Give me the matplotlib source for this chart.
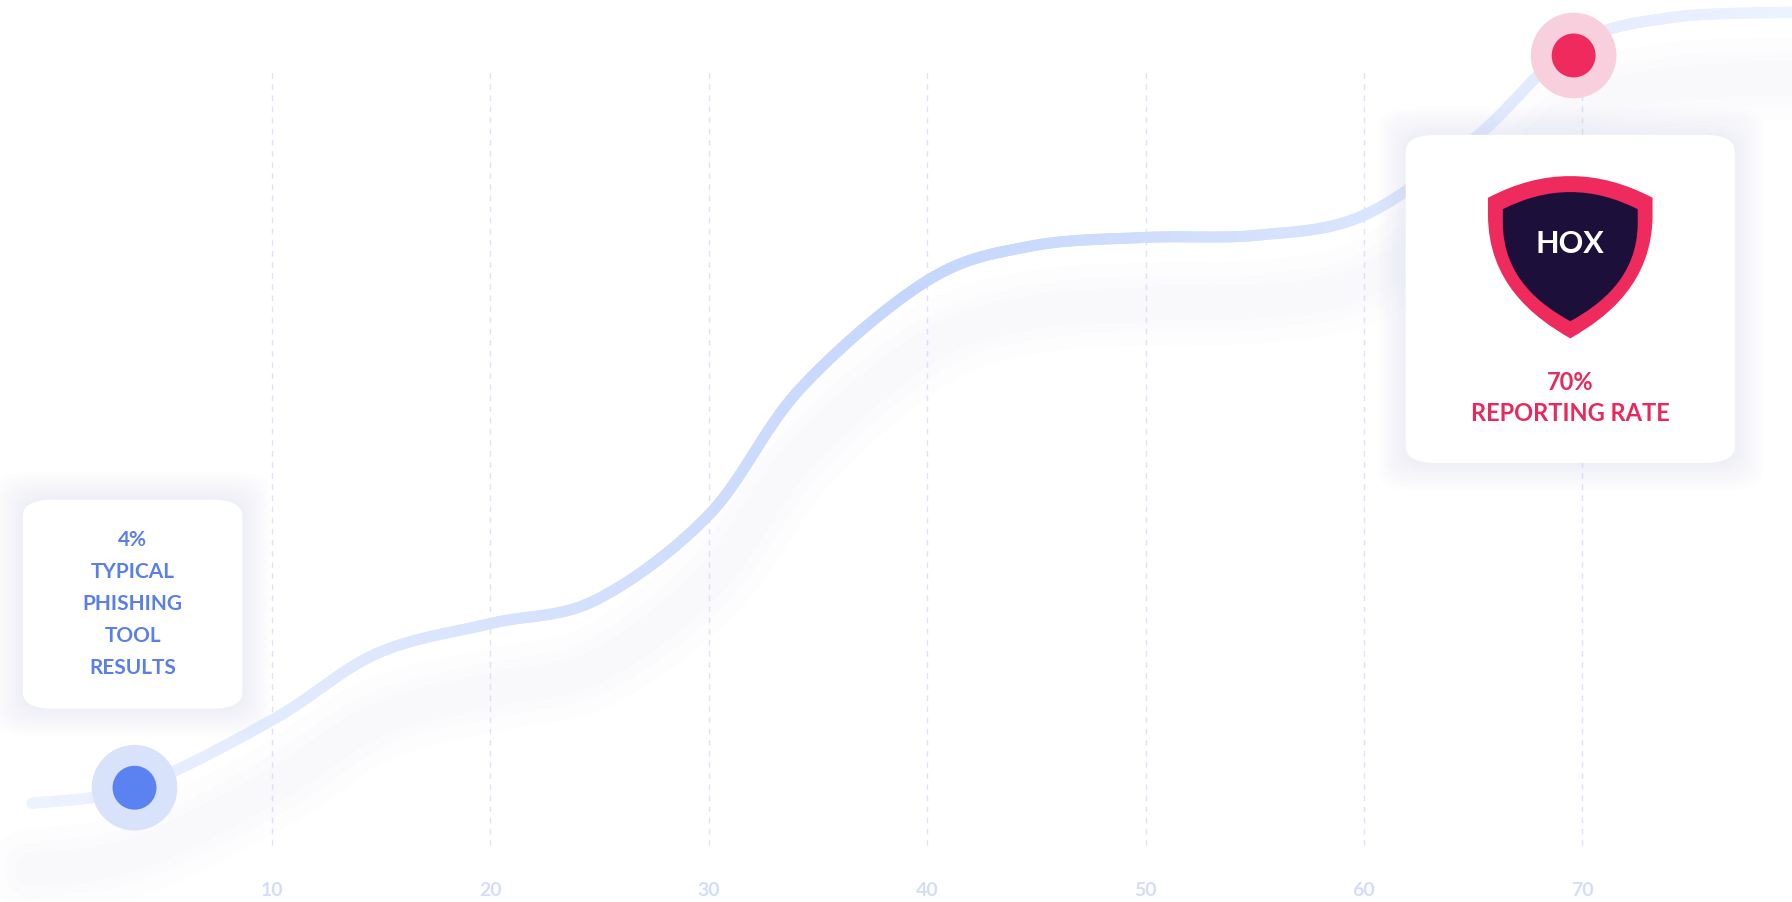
import numpy as np
import matplotlib.pyplot as plt
from matplotlib.collections import LineCollection
from matplotlib.patches import FancyBboxPatch, PathPatch
from matplotlib.path import Path

# curve (x = weeks, y = reporting rate %)
weeks = [-1.0, 3.7, 10, 14.8, 20, 24.8, 30, 34.2, 40, 44.7, 50, 55.1, 60, 65.1, 69.6, 74, 79.6]
rate = [2.6, 4.0, 10.1, 16.1, 18.8, 20.9, 28.6, 40, 49.7, 52.8, 53.6, 53.8, 55.6, 62.6, 70.9, 73.4, 73.9]
ticks = [10, 20, 30, 40, 50, 60, 70]
start_pt = (3.7, 4.0)
end_pt = (69.6, 70.0)

W, H = 1568.0, 789.0  # displayed pixel frame used for placing decorations
def fp(px, py):
    return px / W, 1 - py / H

def catmull(x, y, n=30):
    x = np.asarray(x, float); y = np.asarray(y, float)
    P = np.column_stack([x, y])
    P = np.vstack([P[0], P, P[-1]])
    out = []
    for i in range(1, len(P) - 2):
        p0, p1, p2, p3 = P[i-1], P[i], P[i+1], P[i+2]
        t = np.linspace(0, 1, n, endpoint=False)[:, None]
        out.append(0.5 * ((2*p1) + (-p0+p2)*t + (2*p0-5*p1+4*p2-p3)*t**2 + (-p0+3*p1-3*p2+p3)*t**3))
    out.append(P[-2][None])
    out = np.vstack(out)
    return out[:, 0], out[:, 1]

fig = plt.figure(figsize=(17.92, 9.02), dpi=100)
ax = fig.add_axes([0, 0, 1, 1])
ax.set_xlim(-2.46, 79.6)
ax.set_ylim(-6.3, 75)
ax.axis('off')

# dashed grid
for t in ticks:
    ax.plot([t, t], [-1.2, 68.8], ls=(0, (4, 4)), lw=1, color='#dbe3fb', zorder=1)
    ax.text(t, -5.3, str(t), ha='center', va='center', color='#d3ddfa',
            fontsize=14, fontweight='bold', family='Lato')

sx, sy = catmull(weeks, rate)

# soft shadow under curve
for w, a in [(60, 0.015), (40, 0.02), (24, 0.025)]:
    ax.plot(sx, sy - 6, color='#aab8f0', lw=w, alpha=a, solid_capstyle='round', zorder=1)

pts = np.column_stack([sx, sy]).reshape(-1, 1, 2)
segs = np.concatenate([pts[:-1], pts[1:]], axis=1)
pos = (sx[:-1] - sx.min()) / (sx.max() - sx.min())
light = np.array([0.93, 0.95, 1.0])
mid = np.array([0.77, 0.84, 0.99])
wgt = np.clip(1 - np.abs(pos - 0.5) * 2, 0, 1)[:, None]
cols = light + (mid - light) * wgt
lc = LineCollection(segs, colors=cols, linewidths=8, capstyle='round', zorder=2)
ax.add_collection(lc)

# markers
ax.scatter(*start_pt, s=3800, color='#d9e2fb', zorder=5, edgecolors='none')
ax.scatter(*start_pt, s=1000, color='#5a82f0', zorder=6, edgecolors='none')
ax.scatter(*end_pt, s=3800, color='#f8d0dd', zorder=5, edgecolors='none')
ax.scatter(*end_pt, s=1000, color='#ee2b5c', zorder=6, edgecolors='none')

tr = fig.transFigure
def card(x0, y0, x1, y1):
    for k in range(8, 0, -1):
        g = k * 3
        a, b = fp(x0 - g, y1 + g)
        c, d = fp(x1 + g, y0 - g)
        fig.patches.append(FancyBboxPatch((a, b), c - a, d - b, boxstyle='round,pad=0,rounding_size=0.02',
                                          transform=tr, fc='#c8d2ee', ec='none', alpha=0.03, zorder=7))
    a, b = fp(x0, y1)
    c, d = fp(x1, y0)
    fig.patches.append(FancyBboxPatch((a, b), c - a, d - b, boxstyle='round,pad=0,rounding_size=0.018',
                                      transform=tr, fc='white', ec='none', zorder=8))

card(20, 437, 212, 620)
card(1230, 118, 1518, 405)

fig.text(*fp(116, 528), '4%\nTYPICAL\nPHISHING\nTOOL\nRESULTS', ha='center', va='center',
         color='#5b7fe8', fontsize=15, family='Lato', fontweight='bold', linespacing=1.75, zorder=10)

def shield(cx, top, half, bot, arc, color):
    h = bot - top
    verts = [fp(cx - half, top), fp(cx, top - 2 * arc), fp(cx + half, top),
             fp(cx + half, top + 0.12 * h),
             fp(cx + half, top + 0.6 * h), fp(cx + 0.45 * half, bot - 0.15 * h), fp(cx, bot),
             fp(cx - 0.45 * half, bot - 0.15 * h), fp(cx - half, top + 0.6 * h), fp(cx - half, top + 0.12 * h),
             fp(cx - half, top)]
    codes = [Path.MOVETO, Path.CURVE3, Path.CURVE3, Path.LINETO,
             Path.CURVE4, Path.CURVE4, Path.CURVE4,
             Path.CURVE4, Path.CURVE4, Path.CURVE4, Path.CLOSEPOLY]
    fig.patches.append(PathPatch(Path(verts, codes), transform=tr, fc=color, ec='none', zorder=11))

shield(1374, 173, 72, 296, 19, '#ee2b5c')
shield(1374, 183, 59, 281, 15, '#1c0f3a')
fig.text(*fp(1374, 213), 'HOX', ha='center', va='center', color='white', fontsize=22,
         fontweight='bold', family='Lato', zorder=12)
fig.text(*fp(1374, 348), '70%\nREPORTING RATE', ha='center', va='center', color='#e8295b',
         fontsize=17, family='Lato', fontweight='bold', linespacing=1.4, zorder=12)

fig.savefig('out.png', dpi=100, facecolor='white')
